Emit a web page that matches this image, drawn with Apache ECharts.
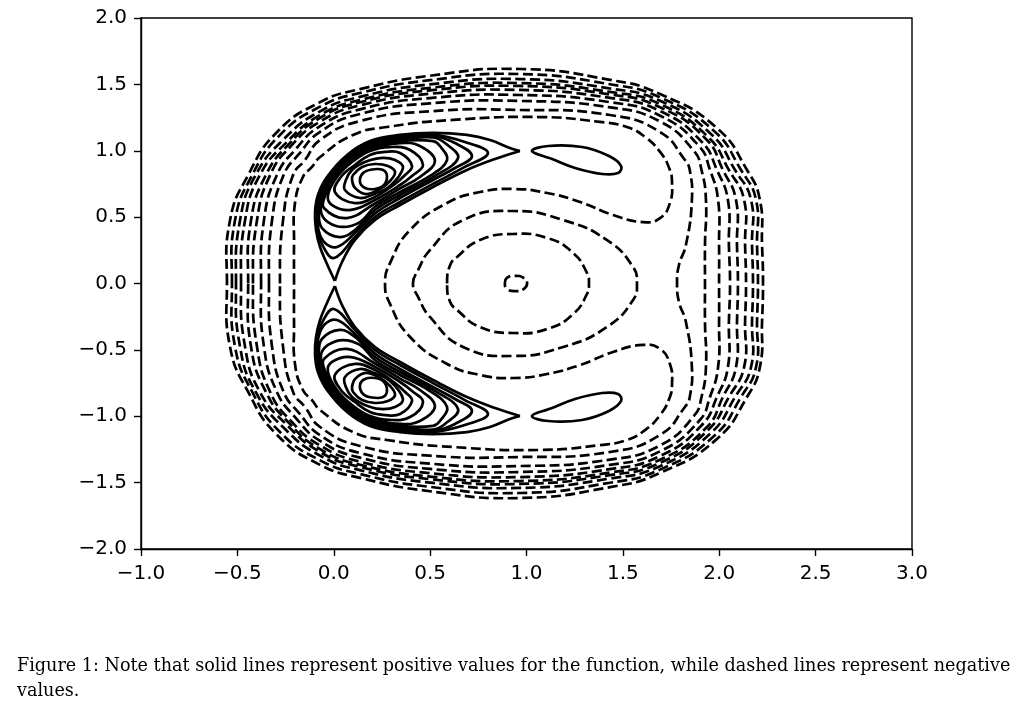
<!DOCTYPE html>
<html>
<head>
<meta charset="utf-8">
<script src="https://cdn.jsdelivr.net/npm/echarts@6/dist/echarts.min.js"></script>
<style>
html,body{margin:0;padding:0;background:#fff;}
#chart{width:1024px;height:703px;}
</style>
</head>
<body>
<div id="chart"></div>
<script>
// ---- axes ----
const xRange = [-1, 3];
const yRange = [-2, 2];
const tickStep = 0.5;
const captionLines = [
  'Figure 1: Note that solid lines represent positive values for the function, while dashed lines represent negative',
  'values.'
];

// ---- negative (dashed) contours: upper halves (mirror-symmetric about y = 0) ----
const ringR8 = [[-0.554,0],[-0.538,0.478],[-0.444,0.817],[-0.294,1.141],[-0.071,1.366],[0.136,1.464],[0.499,1.565],[0.966,1.616],[1.433,1.534],[1.693,1.427],[1.988,1.171],[2.144,0.855],[2.211,0.629],[2.222,0.290],[2.227,0]];
const ringR7 = [[-0.528,0],[-0.512,0.478],[-0.423,0.817],[-0.279,1.119],[-0.071,1.332],[0.136,1.435],[0.499,1.532],[0.966,1.578],[1.433,1.501],[1.693,1.402],[1.973,1.149],[2.113,0.855],[2.191,0.629],[2.196,0.290],[2.201,0]];
const ringR6 = [[-0.507,0],[-0.486,0.478],[-0.405,0.817],[-0.258,1.089],[-0.071,1.297],[0.136,1.406],[0.499,1.500],[0.966,1.540],[1.433,1.469],[1.693,1.376],[1.957,1.126],[2.082,0.855],[2.165,0.629],[2.170,0.290],[2.175,0]];
const ringR5 = [[-0.481,0],[-0.460,0.478],[-0.383,0.817],[-0.243,1.066],[-0.071,1.269],[0.136,1.382],[0.499,1.474],[0.966,1.510],[1.433,1.443],[1.693,1.351],[1.942,1.104],[2.050,0.855],[2.129,0.629],[2.134,0.290],[2.139,0]];
const ringR4 = [[-0.444,0],[-0.429,0.478],[-0.352,0.817],[-0.232,1.051],[-0.071,1.248],[0.136,1.365],[0.499,1.455],[0.966,1.488],[1.433,1.424],[1.693,1.327],[1.931,1.089],[2.019,0.855],[2.087,0.629],[2.092,0.290],[2.097,0]];
const ringR3 = [[-0.419,0],[-0.398,0.478],[-0.330,0.817],[-0.222,1.036],[-0.071,1.220],[0.136,1.342],[0.499,1.429],[0.966,1.458],[1.433,1.398],[1.693,1.299],[1.910,1.066],[1.988,0.855],[2.045,0.629],[2.050,0.290],[2.056,0]];
const ringR2 = [[-0.377,0],[-0.362,0.478],[-0.295,0.817],[-0.201,1.006],[-0.071,1.186],[0.136,1.312],[0.499,1.397],[0.966,1.420],[1.433,1.366],[1.693,1.264],[1.895,1.036],[1.952,0.855],[1.994,0.629],[1.999,0.290],[1.999,0]];
const ringR1 = [[-0.336,0],[-0.320,0.478],[-0.260,0.817],[-0.180,0.976],[-0.071,1.143],[0.136,1.277],[0.499,1.357],[0.966,1.375],[1.433,1.327],[1.693,1.220],[1.869,0.998],[1.908,0.855],[1.931,0.629],[1.926,0.290],[1.926,0]];
const ringW  = [[-0.279,0],[-0.263,0.478],[-0.211,0.817],[-0.149,0.930],[-0.071,1.081],[0.136,1.224],[0.499,1.297],[0.966,1.307],[1.433,1.269],[1.693,1.141],[1.822,0.930],[1.847,0.855],[1.858,0.629],[1.827,0.290],[1.791,0.139],[1.781,0]];
const contourA = [[-0.206,0],[-0.206,0.305],[-0.201,0.606],[-0.160,0.802],[-0.113,0.878],[-0.071,0.953],[0.100,1.119],[0.276,1.179],[0.619,1.232],[1.070,1.254],[1.381,1.217],[1.521,1.179],[1.615,1.104],[1.693,0.991],[1.740,0.870],[1.755,0.757],[1.744,0.606],[1.693,0.493],[1.604,0.463],[1.449,0.516],[1.278,0.614],[1.107,0.682],[0.931,0.712],[0.759,0.689],[0.588,0.606],[0.396,0.403],[0.292,0.154],[0.266,0]];
const ellipseB = [[0.411,0],[0.438,0.102],[0.499,0.252],[0.671,0.478],[0.930,0.546],[1.190,0.478],[1.418,0.327],[1.553,0.124],[1.573,0]];
const ellipseC = [[0.588,0],[0.604,0.139],[0.640,0.200],[0.759,0.328],[0.930,0.373],[1.107,0.343],[1.242,0.230],[1.314,0.079],[1.324,0]];
const loopD = [[0.888,0],[0.897,0.040],[0.940,0.058],[0.985,0.042],[1.003,0]];

// ---- positive (solid) contours: upper lobe and island (the lower ones are their mirror images) ----
const lobe0Top = [[0.006,0.019],[-0.035,0.147],[-0.071,0.275],[-0.092,0.403],[-0.097,0.539],[-0.082,0.667],[-0.035,0.802],[0.069,0.968],[0.188,1.073],[0.344,1.119],[0.515,1.134],[0.691,1.119],[0.811,1.081],[0.914,1.021],[0.966,0.998]];
const lobe0Bottom = [[0.966,0.998],[0.837,0.938],[0.691,0.855],[0.515,0.727],[0.344,0.591],[0.214,0.478],[0.110,0.328],[0.043,0.162],[0.006,0.019]];
const lobe1 = [[0.001,0.192],[0.110,0.350],[0.214,0.501],[0.344,0.614],[0.515,0.750],[0.680,0.878],[0.800,0.983],[0.680,1.066],[0.515,1.119],[0.344,1.104],[0.188,1.058],[0.069,0.953],[-0.030,0.795],[-0.077,0.667],[-0.086,0.539],[-0.082,0.403],[-0.056,0.282]];
const lobe2 = [[0.017,0.275],[0.110,0.380],[0.214,0.528],[0.344,0.644],[0.515,0.780],[0.629,0.870],[0.717,0.960],[0.629,1.058],[0.515,1.111],[0.344,1.096],[0.188,1.051],[0.069,0.942],[-0.022,0.802],[-0.069,0.667],[-0.084,0.539],[-0.079,0.403],[-0.045,0.305]];
const lobe3 = [[0.032,0.350],[0.110,0.403],[0.214,0.554],[0.344,0.667],[0.515,0.802],[0.645,0.945],[0.577,1.058],[0.515,1.100],[0.344,1.085],[0.188,1.040],[0.069,0.934],[-0.014,0.802],[-0.061,0.667],[-0.077,0.539],[-0.061,0.418]];
const lobe4 = [[0.048,0.426],[0.136,0.463],[0.214,0.578],[0.344,0.689],[0.499,0.810],[0.588,0.930],[0.551,1.036],[0.515,1.073],[0.344,1.073],[0.188,1.028],[0.074,0.930],[-0.006,0.802],[-0.053,0.667],[-0.066,0.539],[-0.030,0.463]];
const lobe5 = [[0.069,0.493],[0.214,0.603],[0.344,0.716],[0.447,0.802],[0.525,0.923],[0.447,1.036],[0.344,1.058],[0.188,1.013],[0.084,0.923],[0.004,0.802],[-0.043,0.667],[-0.051,0.569]];
const lobe6 = [[0.089,0.554],[0.214,0.629],[0.344,0.742],[0.406,0.810],[0.463,0.893],[0.396,1.006],[0.292,1.028],[0.188,0.998],[0.095,0.915],[0.017,0.802],[-0.030,0.667],[-0.009,0.591]];
const lobe7 = [[0.110,0.606],[0.214,0.652],[0.318,0.750],[0.370,0.817],[0.406,0.885],[0.344,0.983],[0.266,0.991],[0.188,0.968],[0.110,0.893],[0.037,0.802],[0.006,0.689]];
const lobe8 = [[0.136,0.644],[0.214,0.677],[0.292,0.735],[0.359,0.870],[0.318,0.930],[0.240,0.945],[0.162,0.915],[0.095,0.855],[0.063,0.780],[0.058,0.704]];
const lobe9 = [[0.167,0.674],[0.240,0.712],[0.292,0.772],[0.318,0.840],[0.281,0.885],[0.214,0.900],[0.147,0.878],[0.100,0.817],[0.095,0.780],[0.110,0.720]];
const lobe10 = [[0.136,0.765],[0.152,0.832],[0.198,0.859],[0.256,0.855],[0.276,0.810],[0.261,0.742],[0.214,0.712],[0.162,0.720]];
const island = [[1.028,0.998],[1.112,1.036],[1.288,1.028],[1.428,0.960],[1.491,0.885],[1.475,0.832],[1.392,0.825],[1.252,0.870],[1.133,0.938]];

// ---- helpers ----
function flipY(pts) { return pts.map(p => [p[0], -p[1]]); }
// close an upper-half contour (starting and ending on y = 0) with its mirror image
function mirrorLoop(upper) {
  return upper.concat(flipY(upper.slice(1, -1).reverse()));
}

const LW = 2.7;
const DASH = [10, 4.4];

// each contour is one custom series; its points go through the cartesian axes (api.coord)
function contour(pts, opts) {
  return {
    type: 'custom', coordinateSystem: 'cartesian2d', data: pts, encode: { x: 0, y: 1 },
    silent: true, animation: false, clip: true,
    renderItem: function (params, api) {
      if (params.dataIndex !== 0) return null;
      return {
        type: opts.closed ? 'polygon' : 'polyline',
        shape: { points: pts.map(p => api.coord(p)), smooth: opts.smooth },
        style: { fill: 'none', stroke: '#000', lineWidth: LW, lineDash: opts.dashed ? DASH : null, lineJoin: 'round', lineCap: 'butt' }
      };
    }
  };
}

const series = [];
[ringR8, ringR7, ringR6, ringR5, ringR4, ringR3, ringR2, ringR1, ringW, contourA, ellipseB, ellipseC, loopD]
  .forEach(c => series.push(contour(mirrorLoop(c), { closed: true, dashed: true, smooth: 0.5 })));
[lobe0Top, lobe0Bottom].forEach(c => {
  series.push(contour(c, { closed: false, dashed: false, smooth: 0.4 }));
  series.push(contour(flipY(c), { closed: false, dashed: false, smooth: 0.4 }));
});
[lobe1, lobe2, lobe3, lobe4, lobe5, lobe6, lobe7, lobe8, lobe9, lobe10, island].forEach(c => {
  series.push(contour(c, { closed: true, dashed: false, smooth: 0.4 }));
  series.push(contour(flipY(c), { closed: true, dashed: false, smooth: 0.4 }));
});

function fmt(v) { return (v < 0 ? '\u2212' : '') + Math.abs(v).toFixed(1); }

const axisCommon = {
  type: 'value', interval: tickStep,
  splitLine: { show: false },
  axisLine: { show: true, onZero: false, lineStyle: { color: '#000', width: 1.4 } },
  axisTick: { show: true, inside: false, length: 7, lineStyle: { color: '#000', width: 1.4 } },
  axisLabel: { color: '#000', fontFamily: 'DejaVu Sans', fontSize: 20, formatter: fmt }
};

const chart = echarts.init(document.getElementById('chart'), null, { renderer: 'canvas' });
chart.setOption({
  backgroundColor: '#fff',
  animation: false,
  grid: { left: 141, top: 18, width: 771, height: 531, show: true, borderColor: '#000', borderWidth: 1.4, backgroundColor: 'transparent' },
  xAxis: Object.assign({}, axisCommon, { min: xRange[0], max: xRange[1],
    axisLabel: Object.assign({}, axisCommon.axisLabel, { margin: 15 }) }),
  yAxis: Object.assign({}, axisCommon, { min: yRange[0], max: yRange[1],
    axisLabel: Object.assign({}, axisCommon.axisLabel, { margin: 14 }) }),
  series: series,
  graphic: captionLines.map((t, i) => ({
    type: 'text', left: 17, top: 657 + i * 25,
    style: { text: t, fill: '#000', font: '17.6px "DejaVu Serif", "Liberation Serif", serif' }
  }))
});
</script>
</body>
</html>
